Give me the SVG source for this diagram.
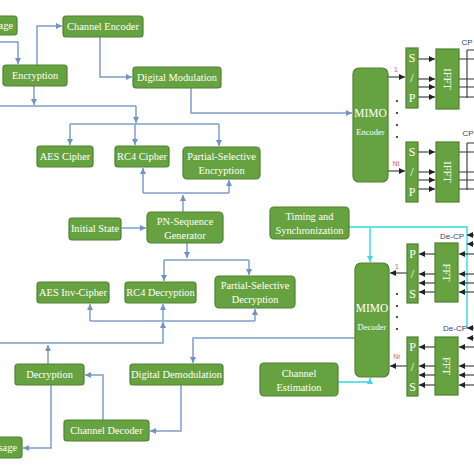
<svg xmlns="http://www.w3.org/2000/svg" width="474" height="474" viewBox="0 0 474 474">
<defs>
<style>
.b{fill:#66a340;stroke:#4e8131;stroke-width:1.2}
.t{font-family:"Liberation Serif","Times New Roman",serif;font-size:10.4px;fill:#fff;text-anchor:middle}
.s{font-size:12px}
.c{fill:none;stroke:#7f9fc9;stroke-width:1.5}
.cy{fill:none;stroke:#5ee3ec;stroke-width:1.8}
.k{fill:none;stroke:#333;stroke-width:1.1}
.lr{font-family:"Liberation Sans",Arial,sans-serif;font-size:7px;fill:#e05a5a;text-anchor:middle}
.lb{font-family:"Liberation Sans",Arial,sans-serif;font-size:8px;fill:#3a3f6e;text-anchor:middle}
</style>
<marker id="ab" viewBox="0 0 6 6" refX="6" refY="3" markerWidth="6" markerHeight="6" markerUnits="userSpaceOnUse" orient="auto"><path d="M0,0 L6,3 L0,6 z" fill="#6f93c4"/></marker>
<marker id="ac" viewBox="0 0 6 6" refX="6" refY="3" markerWidth="6" markerHeight="6" markerUnits="userSpaceOnUse" orient="auto"><path d="M0,0 L6,3 L0,6 z" fill="#3fd8e2"/></marker>
<marker id="ak" viewBox="0 0 6 6" refX="6" refY="3" markerWidth="6" markerHeight="6" markerUnits="userSpaceOnUse" orient="auto"><path d="M0,0 L6,3 L0,6 z" fill="#222"/></marker>
</defs>
<rect width="474" height="474" fill="#fff"/>

<g id="connectors">
<g class="c">
<path d="M0 42 H18 V64" marker-end="url(#ab)"/>
<path d="M37 65 V26 H62" marker-end="url(#ab)"/>
<path d="M100 37 V77 H132" marker-end="url(#ab)"/>
<path d="M34 86 V105" marker-end="url(#ab)"/>
<path d="M0 106 H136"/>
<path d="M136 106 V123" marker-end="url(#ab)"/>
<path d="M70 124 H219"/>
<path d="M70 124 V145" marker-end="url(#ab)"/>
<path d="M135 124 V145" marker-end="url(#ab)"/>
<path d="M219 124 V146" marker-end="url(#ab)"/>
<path d="M191 88 V113 H352" marker-end="url(#ab)"/>
<path d="M122 228 H146" marker-end="url(#ab)"/>
<path d="M183 212 V195" marker-end="url(#ab)"/>
<path d="M143 193 H229"/>
<path d="M143 193 V168" marker-end="url(#ab)"/>
<path d="M229 193 V180" marker-end="url(#ab)"/>
<path d="M187 243 V258" marker-end="url(#ab)"/>
<path d="M164 260 H249"/>
<path d="M164 260 V281" marker-end="url(#ab)"/>
<path d="M249 260 V275" marker-end="url(#ab)"/>
<path d="M90 321 H255"/>
<path d="M90 321 V304" marker-end="url(#ab)"/>
<path d="M255 321 V309" marker-end="url(#ab)"/>
<path d="M0 343 H163 V322" marker-end="url(#ab)"/>
<path d="M163 321 V304" marker-end="url(#ab)"/>
<path d="M48 364 V345" marker-end="url(#ab)"/>
<path d="M355 338 H193 V363" marker-end="url(#ab)"/>
<path d="M181 385 V431 H150" marker-end="url(#ab)"/>
<path d="M103 420 V375 H85" marker-end="url(#ab)"/>
<path d="M51 385 V448 H23" marker-end="url(#ab)"/>
</g>
<g class="cy">
<path d="M349 227 H467 V327"/>
<path d="M370 227 V262" marker-end="url(#ac)"/>
<path d="M338 382 H370 V378" marker-end="url(#ac)"/>
</g>
<g class="k">
<path d="M388 77 H405" marker-end="url(#ak)"/>
<path d="M418 59 H435" marker-end="url(#ak)"/>
<path d="M418 79 H435" marker-end="url(#ak)"/>
<path d="M418 87 H435" marker-end="url(#ak)"/>
<path d="M418 97 H435" marker-end="url(#ak)"/>
<path d="M459 59 H474 M459 79 H474 M459 87 H474 M459 97 H474 M467 50 V98 M467 50 H474"/>
<path d="M388 171 H405" marker-end="url(#ak)"/>
<path d="M418 152 H435" marker-end="url(#ak)"/>
<path d="M418 172 H435" marker-end="url(#ak)"/>
<path d="M418 180 H435" marker-end="url(#ak)"/>
<path d="M418 189 H435" marker-end="url(#ak)"/>
<path d="M459 152 H474 M459 172 H474 M459 180 H474 M459 189 H474 M467 143 V190 M467 143 H474"/>
<path d="M474 235 H467" marker-end="url(#ak)"/>
<path d="M474 244 H467" marker-end="url(#ak)"/>
<path d="M474 254 H459" marker-end="url(#ak)"/>
<path d="M474 274 H459" marker-end="url(#ak)"/>
<path d="M474 283 H459" marker-end="url(#ak)"/>
<path d="M474 292 H459" marker-end="url(#ak)"/>
<path d="M435 254 H419" marker-end="url(#ak)"/>
<path d="M435 274 H419" marker-end="url(#ak)"/>
<path d="M435 283 H419" marker-end="url(#ak)"/>
<path d="M435 292 H419" marker-end="url(#ak)"/>
<path d="M407 273 H390" marker-end="url(#ak)"/>
<path d="M474 328 H467" marker-end="url(#ak)"/>
<path d="M474 338 H467" marker-end="url(#ak)"/>
<path d="M474 347 H459" marker-end="url(#ak)"/>
<path d="M474 366 H459" marker-end="url(#ak)"/>
<path d="M474 375 H459" marker-end="url(#ak)"/>
<path d="M474 385 H459" marker-end="url(#ak)"/>
<path d="M435 347 H419" marker-end="url(#ak)"/>
<path d="M435 366 H419" marker-end="url(#ak)"/>
<path d="M435 375 H419" marker-end="url(#ak)"/>
<path d="M435 385 H419" marker-end="url(#ak)"/>
<path d="M407 366 H390" marker-end="url(#ak)"/>
</g>
<g fill="#222">
<circle cx="397" cy="101" r="1.1"/><circle cx="397" cy="113" r="1.1"/><circle cx="397" cy="125" r="1.1"/><circle cx="397" cy="137" r="1.1"/>
<circle cx="397" cy="294" r="1.1"/><circle cx="397" cy="306" r="1.1"/><circle cx="397" cy="317" r="1.1"/><circle cx="397" cy="329" r="1.1"/>
</g>
<text class="lr" x="396" y="72">1</text>
<text class="lr" x="396" y="166">Nt</text>
<text class="lr" x="397" y="269">1</text>
<text class="lr" x="397" y="359">Nr</text>
<text class="lb" x="467" y="45">CP</text>
<text class="lb" x="468" y="136">CP</text>
<text class="lb" x="452" y="239">De-CP</text>
<text class="lb" x="455" y="331">De-CP</text>
</g>

<g id="msg1"><rect class="b" x="-40" y="16" width="57" height="19" rx="3"/><text class="t" x="13" y="29" style="text-anchor:end">Message</text></g>
<g id="encryption"><rect class="b" x="3" y="65" width="64" height="21" rx="3"/><text class="t" x="35" y="79">Encryption</text></g>
<g id="chenc"><rect class="b" x="63" y="16" width="80" height="21" rx="3"/><text class="t" x="103" y="30">Channel Encoder</text></g>
<g id="dmod"><rect class="b" x="133" y="67" width="88" height="21" rx="3"/><text class="t" x="177" y="81">Digital Modulation</text></g>
<g id="aes"><rect class="b" x="37" y="146" width="56" height="21" rx="3"/><text class="t" x="65" y="160">AES Cipher</text></g>
<g id="rc4"><rect class="b" x="115" y="146" width="54" height="21" rx="3"/><text class="t" x="142" y="160">RC4 Cipher</text></g>
<g id="pse"><rect class="b" x="183" y="147" width="77" height="32" rx="4"/><text class="t" x="221.5" y="160">Partial-Selective</text><text class="t" x="221.5" y="174">Encryption</text></g>
<g id="init"><rect class="b" x="69" y="218" width="52" height="22" rx="3"/><text class="t" x="95" y="232">Initial State</text></g>
<g id="pn"><rect class="b" x="147" y="212" width="76" height="31" rx="4"/><text class="t" x="185" y="225">PN-Sequence</text><text class="t" x="185" y="239">Generator</text></g>
<g id="aesinv"><rect class="b" x="37" y="282" width="72" height="21" rx="3"/><text class="t" x="73" y="296">AES Inv-Cipher</text></g>
<g id="rc4d"><rect class="b" x="125" y="282" width="71" height="21" rx="3"/><text class="t" x="160.5" y="296">RC4 Decryption</text></g>
<g id="psd"><rect class="b" x="215" y="276" width="80" height="32" rx="4"/><text class="t" x="255" y="289">Partial-Selective</text><text class="t" x="255" y="303">Decryption</text></g>
<g id="decryption"><rect class="b" x="15" y="364" width="69" height="21" rx="3"/><text class="t" x="49.5" y="378">Decryption</text></g>
<g id="ddem"><rect class="b" x="130" y="364" width="93" height="21" rx="3"/><text class="t" x="176.5" y="378">Digital Demodulation</text></g>
<g id="chdec"><rect class="b" x="64" y="420" width="85" height="21" rx="3"/><text class="t" x="106.5" y="434">Channel Decoder</text></g>
<g id="msg2"><rect class="b" x="-40" y="437" width="62" height="21" rx="3"/><text class="t" x="17" y="451" style="text-anchor:end">Message</text></g>
<g id="mimoenc"><rect class="b" x="353" y="68" width="35" height="114" rx="6"/><text class="t" x="370.5" y="117" style="font-size:11.5px">MIMO</text><text class="t" x="370.5" y="135" style="font-size:8.5px">Encoder</text></g>
<g id="tsync"><rect class="b" x="270" y="207" width="79" height="32" rx="4"/><text class="t" x="309.5" y="220">Timing and</text><text class="t" x="309.5" y="234">Synchronization</text></g>
<g id="mimodec"><rect class="b" x="355" y="263" width="34" height="114" rx="6"/><text class="t" x="372" y="312" style="font-size:11.5px">MIMO</text><text class="t" x="372" y="330" style="font-size:8.5px">Decoder</text></g>
<g id="chest"><rect class="b" x="260" y="363" width="78" height="33" rx="4"/><text class="t" x="299" y="377">Channel</text><text class="t" x="299" y="391">Estimation</text></g>
<g id="sp1"><rect class="b" x="406" y="48" width="12" height="60"/><text class="t s" x="412" y="62">S</text><text class="t s" x="412" y="82">/</text><text class="t s" x="412" y="102">P</text></g>
<g id="ifft1"><rect class="b" x="436" y="49" width="23" height="60"/><text class="t" transform="translate(447.5,79) rotate(90)" y="4">IFFT</text></g>
<g id="sp2"><rect class="b" x="406" y="142" width="12" height="60"/><text class="t s" x="412" y="156">S</text><text class="t s" x="412" y="176">/</text><text class="t s" x="412" y="196">P</text></g>
<g id="ifft2"><rect class="b" x="436" y="142" width="23" height="60"/><text class="t" transform="translate(447.5,172) rotate(90)" y="4">IFFT</text></g>
<g id="ps1"><rect class="b" x="407" y="244" width="11" height="59"/><text class="t s" x="412.5" y="258">P</text><text class="t s" x="412.5" y="278">/</text><text class="t s" x="412.5" y="298">S</text></g>
<g id="fft1"><rect class="b" x="435" y="243" width="23" height="59"/><text class="t" transform="translate(446.5,272.5) rotate(90)" y="4">FFT</text></g>
<g id="ps2"><rect class="b" x="407" y="337" width="11" height="59"/><text class="t s" x="412.5" y="351">P</text><text class="t s" x="412.5" y="371">/</text><text class="t s" x="412.5" y="391">S</text></g>
<g id="fft2"><rect class="b" x="435" y="337" width="23" height="58"/><text class="t" transform="translate(446.5,366) rotate(90)" y="4">FFT</text></g>
</svg>
